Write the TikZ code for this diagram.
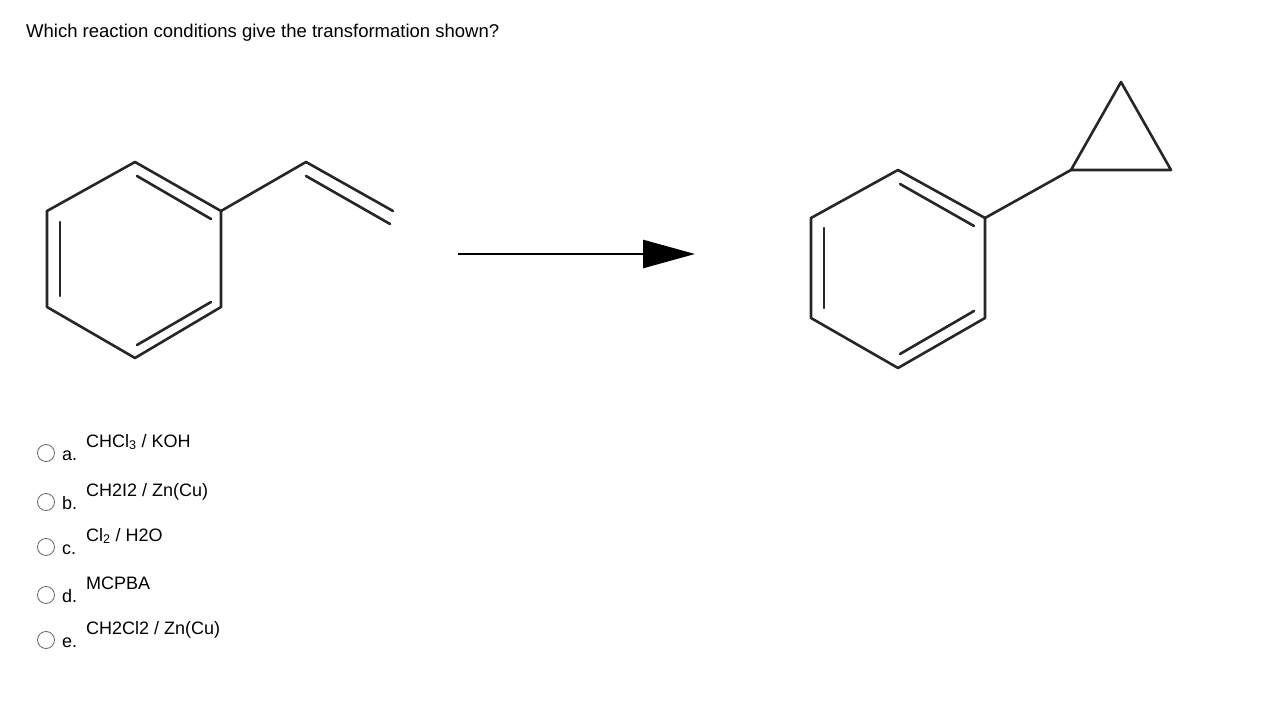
\documentclass[tikz,border=0pt]{standalone}
\usepackage{fontspec}
\setmainfont{Liberation Sans}
\usetikzlibrary{arrows.meta}
\begin{document}
\begin{tikzpicture}[x=1pt,y=-1pt,
  bond/.style={line width=2.6pt,color=black!85,line cap=round,line join=round},
  opt/.style={circle,draw=black!60,line width=0.8pt,minimum size=17pt,inner sep=0pt},
  txt/.style={anchor=base west,inner sep=0pt,font=\fontsize{18}{20}\selectfont}]
\useasboundingbox (0,0) rectangle (1280,714);
\node[anchor=base west,inner sep=0pt,font=\fontsize{18.5}{22}\selectfont] (title) at (26,38) {Which reaction conditions give the transformation shown?};
% styrene
\coordinate (s1) at (135,162); \coordinate (s2) at (221,211); \coordinate (s3) at (221,307);
\coordinate (s4) at (135,358); \coordinate (s5) at (47,307); \coordinate (s6) at (47,211);
\draw[bond] (s1)--(s2)--(s3)--(s4)--(s5)--(s6)--cycle;
\draw[bond] (60,222)--(60,296);
\draw[bond] (137,176)--(211,219);
\draw[bond] (137,345)--(211,302);
\coordinate (v1) at (306,162); \coordinate (v2) at (393,211);
\draw[bond] (s2)--(v1)--(v2);
\draw[bond] (306,176)--(390,224);
% arrow
\coordinate (a1) at (458,254); \coordinate (a2) at (695,254);
\draw[line width=2.6pt,-{Triangle[length=52pt,width=28pt]}] (a1)--(a2);
% product
\coordinate (p1) at (898,170); \coordinate (p2) at (985,218); \coordinate (p3) at (985,318);
\coordinate (p4) at (898,368); \coordinate (p5) at (811,318); \coordinate (p6) at (811,218);
\draw[bond] (p1)--(p2)--(p3)--(p4)--(p5)--(p6)--cycle;
\draw[bond] (824,228)--(824,308);
\draw[bond] (900,184)--(974,226);
\draw[bond] (900,354)--(974,311);
\coordinate (c1) at (1071,170); \coordinate (c2) at (1171,170); \coordinate (c3) at (1121,82);
\draw[bond] (p2)--(c1);
\draw[bond] (c1)--(c2)--(c3)--cycle;
% options
\foreach \y/\l/\t/\n in {453/a./{CHCl\textsubscript{3} / KOH}/A,502/b./{CH2I2 / Zn(Cu)}/B,547/c./{Cl\textsubscript{2} / H2O}/C,595/d./{MCPBA}/D,640/e./{CH2Cl2 / Zn(Cu)}/E}{
  \node[opt] (o\n) at (46,\y) {};
  \node[txt] (l\n) at (62,\y+7) {\l};
  \node[txt] (t\n) at (86,\y-6) {\t};
}
\end{tikzpicture}
\end{document}
